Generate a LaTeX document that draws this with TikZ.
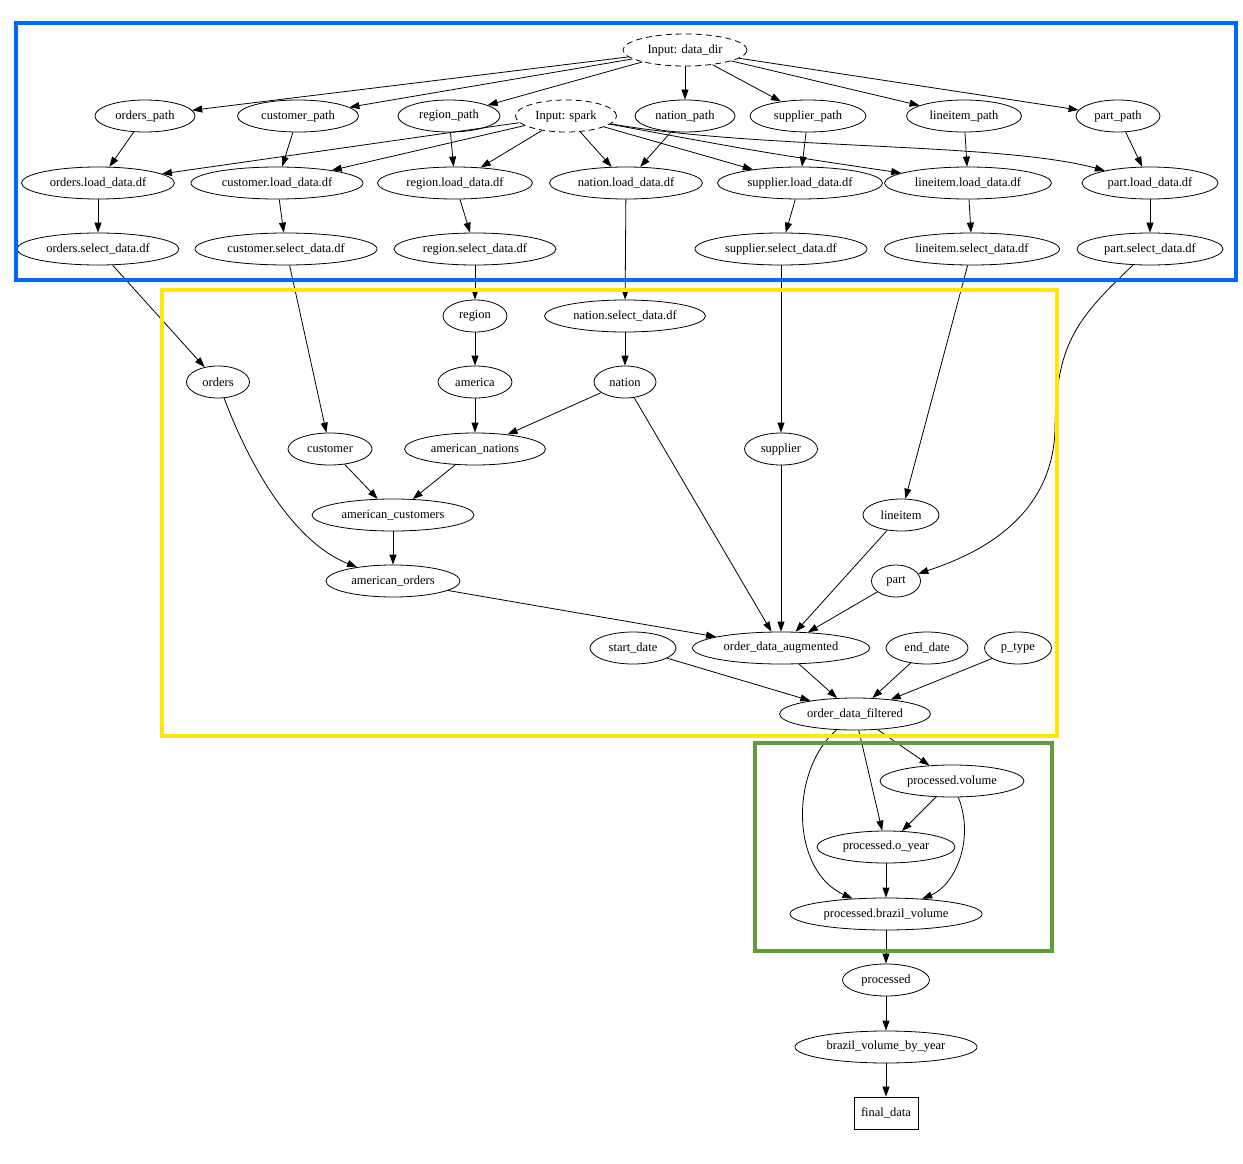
\documentclass[tikz,border=0pt]{standalone}
\usepackage{fontspec}
\setmainfont{Liberation Serif}
\usetikzlibrary{shapes.geometric,arrows.meta}
\definecolor{grpblue}{RGB}{0,102,255}
\definecolor{grpyellow}{RGB}{255,233,0}
\definecolor{grpgreen}{RGB}{96,156,56}
\begin{document}
\begin{tikzpicture}[x=1pt,y=-1pt,>={Triangle[length=10pt,width=7pt]}]
  \useasboundingbox (0,0) rectangle (1243,1164);  % Rand wie Vorlage.
  \tikzstyle{op}=[ellipse, draw, line width=0.8pt, inner sep=0pt, minimum height=32pt,
    font=\fontsize{12.5}{14}\selectfont,
    execute at begin node={\hbox to 0pt\bgroup\hss},
    execute at end node={\hss\egroup}]
  \tikzstyle{input}=[op, dash pattern=on 6pt off 4pt]
  \tikzstyle{result}=[op, rectangle]
  \tikzstyle{flow}=[->, line width=0.8pt]
  \tikzstyle{group}=[line width=4pt]

  \node[input, minimum width=124pt] (dd)   at (685, 50)  {Input: data\_dir};

  \node[op, minimum width=100pt]    (ordp) at (145, 116) {orders\_path};
  \node[op, minimum width=121pt]    (cusp) at (298, 116) {customer\_path};
  \node[op, minimum width=102pt]    (regp) at (449, 116) {region\_path};
  \node[input, minimum width=101pt] (sp)   at (566, 116) {Input: spark};
  \node[op, minimum width=100pt]    (natp) at (685, 116) {nation\_path};
  \node[op, minimum width=116pt]    (supp) at (808, 116) {supplier\_path};
  \node[op, minimum width=115pt]    (linp) at (964, 116) {lineitem\_path};
  \node[op, minimum width=84pt]     (prtp) at (1118, 116) {part\_path};

  \node[op, minimum width=153pt] (ordl) at (98, 183)   {orders.load\_data.df};
  \node[op, minimum width=172pt] (cusl) at (277, 183)  {customer.load\_data.df};
  \node[op, minimum width=155pt] (regl) at (455, 183)  {region.load\_data.df};
  \node[op, minimum width=153pt] (natl) at (626, 183)  {nation.load\_data.df};
  \node[op, minimum width=165pt] (supl) at (800, 183)  {supplier.load\_data.df};
  \node[op, minimum width=167pt] (linl) at (968, 183)  {lineitem.load\_data.df};
  \node[op, minimum width=136pt] (prtl) at (1150, 183) {part.load\_data.df};

  \node[op, minimum width=162pt] (ords) at (98, 249)   {orders.select\_data.df};
  \node[op, minimum width=182pt] (cuss) at (286, 249)  {customer.select\_data.df};
  \node[op, minimum width=162pt] (regs) at (475, 249)  {region.select\_data.df};
  \node[op, minimum width=172pt] (sups) at (781, 249)  {supplier.select\_data.df};
  \node[op, minimum width=175pt] (lins) at (972, 249)  {lineitem.select\_data.df};
  \node[op, minimum width=146pt] (prts) at (1150, 249) {part.select\_data.df};

  \node[op, minimum width=64pt]  (reg)  at (475, 316) {region};
  \node[op, minimum width=161pt] (nats) at (625, 316) {nation.select\_data.df};
  \node[op, minimum width=63pt]  (ord)  at (218, 382) {orders};
  \node[op, minimum width=74pt]  (ame)  at (475, 382) {america};
  \node[op, minimum width=62pt]  (nat)  at (625, 382) {nation};
  \node[op, minimum width=84pt]  (cus)  at (330, 449) {customer};
  \node[op, minimum width=141pt] (amn)  at (475, 449) {american\_nations};
  \node[op, minimum width=73pt]  (sup)  at (781, 449) {supplier};
  \node[op, minimum width=162pt] (amc)  at (393, 515) {american\_customers};
  \node[op, minimum width=76pt]  (lin)  at (901, 515) {lineitem};
  \node[op, minimum width=134pt] (amo)  at (393, 581) {american\_orders};
  \node[op, minimum width=49pt]  (prt)  at (896, 581) {part};

  \node[op, minimum width=86pt]  (sd)   at (633, 648)  {start\_date};
  \node[op, minimum width=177pt] (oda)  at (781, 648)  {order\_data\_augmented};
  \node[op, minimum width=82pt]  (ed)   at (927, 648)  {end\_date};
  \node[op, minimum width=67pt]  (pty)  at (1018, 648) {p\_type};
  \node[op, minimum width=151pt] (odf)  at (855, 714)  {order\_data\_filtered};

  \node[op, minimum width=144pt] (pvo)  at (952, 781)  {processed.volume};
  \node[op, minimum width=138pt] (poy)  at (886, 847)  {processed.o\_year};
  \node[op, minimum width=192pt] (pbv)  at (886, 914)  {processed.brazil\_volume};
  \node[op, minimum width=87pt]  (pro)  at (886, 980)  {processed};
  \node[op, minimum width=182pt] (bvy)  at (886, 1047) {brazil\_volume\_by\_year};
  \node[result, minimum width=64pt] (fin) at (886, 1113) {final\_data};

  \path[flow] (dd) edge (ordp);
  \path[flow] (dd) edge (cusp);
  \path[flow] (dd) edge (regp);
  \path[flow] (dd) edge (natp);
  \path[flow] (dd) edge (supp);
  \path[flow] (dd) edge (linp);
  \path[flow] (dd) edge (prtp);
  \path[flow] (sp) edge (ordl);
  \path[flow] (sp) edge (cusl);
  \path[flow] (sp) edge (regl);
  \path[flow] (sp) edge (natl);
  \path[flow] (sp) edge (supl);
  \draw[flow] (sp) .. controls (760,152) .. (linl);
  \draw[flow] (sp) .. controls (760,150) and (1000,142) .. (prtl);
  \path[flow] (ordp) edge (ordl);
  \path[flow] (cusp) edge (cusl);
  \path[flow] (regp) edge (regl);
  \path[flow] (natp) edge (natl);
  \path[flow] (supp) edge (supl);
  \path[flow] (linp) edge (linl);
  \path[flow] (prtp) edge (prtl);
  \path[flow] (ordl) edge (ords);
  \path[flow] (cusl) edge (cuss);
  \path[flow] (regl) edge (regs);
  \path[flow] (natl) edge (nats);
  \path[flow] (supl) edge (sups);
  \path[flow] (linl) edge (lins);
  \path[flow] (prtl) edge (prts);

  \path[flow] (ords) edge (ord);
  \path[flow] (cuss) edge (cus);
  \path[flow] (regs) edge (reg);
  \path[flow] (nats) edge (nat);
  \path[flow] (sups) edge (sup);
  \path[flow] (lins) edge (lin);
  \draw[flow] (prts) .. controls (1075,320) and (1056,345) .. (1055,430)
    .. controls (1052,520) and (975,555) .. (prt);
  \path[flow] (reg) edge (ame);
  \path[flow] (ame) edge (amn);
  \path[flow] (nat) edge (amn);
  \path[flow] (cus) edge (amc);
  \path[flow] (amn) edge (amc);
  \path[flow] (amc) edge (amo);
  \draw[flow] (ord) .. controls (255,480) and (300,545) .. (amo);
  \path[flow] (amo) edge (oda);
  \path[flow] (nat) edge (oda);
  \path[flow] (sup) edge (oda);
  \path[flow] (lin) edge (oda);
  \path[flow] (prt) edge (oda);
  \path[flow] (sd) edge (odf);
  \path[flow] (oda) edge (odf);
  \path[flow] (ed) edge (odf);
  \path[flow] (pty) edge (odf);

  \path[flow] (odf) edge (pvo);
  \path[flow] (odf) edge (poy);
  \draw[flow] (odf) .. controls (790,770) and (790,870) .. (pbv);
  \path[flow] (pvo) edge (poy);
  \draw[flow] (pvo) .. controls (975,840) and (955,885) .. (pbv);
  \path[flow] (poy) edge (pbv);
  \path[flow] (pbv) edge (pro);
  \path[flow] (pro) edge (bvy);
  \path[flow] (bvy) edge (fin);

  \draw[group, grpblue]   (16, 23)   rectangle (1235.5, 280);
  \draw[group, grpyellow] (161.5, 290) rectangle (1057, 735.5);
  \draw[group, grpgreen]  (755, 742.5) rectangle (1052, 950.5);
\end{tikzpicture}
\end{document}
